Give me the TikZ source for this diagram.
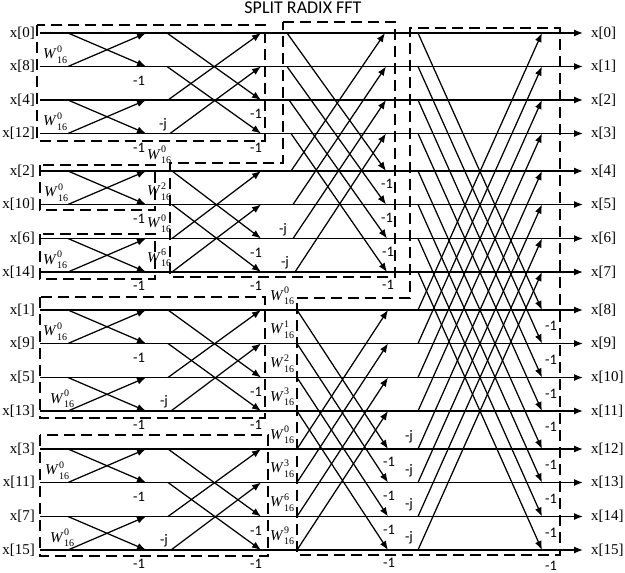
\documentclass[tikz,border=0pt]{standalone}
\usepackage{fontspec}
\setmainfont{Liberation Serif}
\newfontfamily\calib{Carlito}
\usetikzlibrary{arrows.meta}
\newcommand\Wt[1]{\textit{W}\kern0.4pt\rlap{\raisebox{6.5pt}{\fontsize{10}{10}\selectfont #1}}\raisebox{-4.5pt}{\fontsize{10}{10}\selectfont 16}}
\begin{document}
\begin{tikzpicture}[x=1pt,y=-1pt,
  arr/.style={line width=1.25pt,-{Latex[length=9pt,width=7pt]}},
  box/.style={line width=1.6pt,dash pattern=on 11pt off 6pt},
  m1/.style={font=\calib\fontsize{14.5}{14.5}\selectfont, inner sep=0pt},
  lab/.style={font=\fontsize{15}{15}\selectfont, inner sep=0pt},
  wl/.style={font=\fontsize{15}{15}\selectfont, inner sep=0pt, anchor=base west}]
\useasboundingbox (0,0) rectangle (625,573);
\node[font=\calib\fontsize{18}{18}\selectfont, inner sep=0pt] (title) at (303,8) {SPLIT RADIX FFT};
% rows
\foreach \i/\y/\n/\p/\q/\r in {0/33/0/167/287/385, 1/66.5/8/167/287/386, 2/100/4/168/289/386, 3/133.5/12/170/291/386, 4/171/2/172/291/386, 5/204.5/10/172/293/386, 6/238.5/6/172/293/387, 7/272/14/172/295/387, 8/310/1/168/297/388, 9/343.5/9/168/297/388, 10/377.5/5/168/297/388, 11/411/13/171/297/388, 12/449/3/168/297/388, 13/482.5/11/168/297/388, 14/516.5/7/168/297/388, 15/550/15/171/297/388}
{
 \coordinate (L\i) at (40,\y);
 \coordinate (R\i) at (583,\y);
 \coordinate (A\i) at (68,\y);
 \coordinate (B\i) at (146,\y);
 \coordinate (C\i) at (\p,\y);
 \coordinate (D\i) at (261,\y);
 \coordinate (E\i) at (\q,\y);
 \coordinate (F\i) at (\r,\y);
 \coordinate (G\i) at (418,\y);
 \coordinate (H\i) at (542,\y);
 \node[lab,anchor=east] (in\i) at (35,\y) {x[\n]};
 \node[lab,anchor=west] (out\i) at (591,\y) {x[\i]};
 \draw[arr] (L\i) -- (R\i);
}
% dashed boxes
\draw[box] (37,25) rectangle (265,141);
\draw[box] (40,165) rectangle (155,210);
\draw[box] (40,234) rectangle (155,279);
\draw[box] (283,22) -- (395,22) -- (395,277) -- (170,277) -- (170,163) -- (283,163) -- cycle;
\draw[box] (40,297) rectangle (265,418);
\draw[box] (40,435) rectangle (268,556);
\draw[box] (297,298) -- (410,298) -- (410,28) -- (560,28) -- (560,555) -- (297,555) -- cycle;
% stage 1
\foreach \a/\b in {0/1,2/3,4/5,6/7,8/9,10/11,12/13,14/15}{
  \draw[arr] (A\a) -- (B\b);
  \draw[arr] (A\b) -- (B\a);
  \node[m1] (sa\b) at ([shift={(-7,14)}]B\b) {-1};
}
% stage 2
\foreach \a/\b in {0/2,1/3,4/6,5/7,8/10,9/11,12/14,13/15}{
  \draw[arr] (C\a) -- (D\b);
  \draw[arr] (C\b) -- (D\a);
  \node[m1] (sb\b) at ([shift={(-5,14)}]D\b) {-1};
}
\foreach \i in {3,11,15}{\node[m1] (jb\i) at ([shift={(-7,-9)}]C\i) {-j};}
\foreach \i in {6,7}{\node[m1] (jc\i) at ([shift={(-10,-9)}]E\i) {-j};}
% stage 3
\foreach \a/\b in {0/4,1/5,2/6,3/7,8/12,9/13,10/14,11/15}{
  \draw[arr] (E\a) -- (F\b);
  \draw[arr] (E\b) -- (F\a);
  \node[m1] (sc\b) at ([shift={(1,13)}]F\b) {-1};
}
\foreach \i in {12,13,14,15}{\node[m1] (jd\i) at ([shift={(-9,-12)}]G\i) {-j};}
% stage 4
\foreach \a in {0,...,7}{
  \pgfmathtruncatemacro\b{\a+8}
  \draw[arr] (G\a) -- (H\b);
  \draw[arr] (G\b) -- (H\a);
  \node[m1] (sd\b) at ([shift={(9,16)}]H\b) {-1};
}
% twiddles
\foreach \i/\dx in {1/3,3/3,5/4,7/3,9/3,11/10,13/5,15/10}{
  \node[wl] (wa\i) at ([shift={(\dx,-8)}]L\i) {\Wt{0}};
}
\foreach \i/\k/\dy in {4/0/-12,5/2/-9,6/0/-11,7/6/-10}{
  \node[wl] (wb\i) at ([shift={(107,\dy)}]L\i) {\Wt{\k}};
}
\foreach \i/\k in {8/0,9/1,10/2,11/3,12/0,13/3,14/6,15/9}{
  \node[wl] (wc\i) at ([shift={(230,-10)}]L\i) {\Wt{\k}};
}
\end{tikzpicture}
\end{document}
